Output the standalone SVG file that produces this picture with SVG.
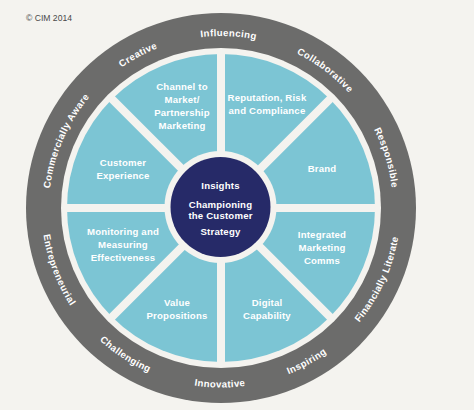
<svg xmlns="http://www.w3.org/2000/svg" width="474" height="410" viewBox="0 0 474 410">
<style>
.bg{fill:#f4f3ef}
.seg{fill:#7cc5d4}
.lbl{font-family:"Liberation Sans",Arial,sans-serif;font-weight:700;font-size:9.6px;fill:#ffffff;text-anchor:middle;letter-spacing:0.2px}
.ring{font-family:"Liberation Sans",Arial,sans-serif;font-weight:700;font-size:9.6px;fill:#ffffff;text-anchor:middle;letter-spacing:0.4px}
.spoke{stroke:#f4f3ef;stroke-width:8}
</style>
<defs>
<path id="arcTop" d="M221,380 A172,172 0 1 1 221,36 A172,172 0 1 1 221,380"/>
<path id="arcBot" d="M221,28.5 A179.5,179.5 0 1 0 221,387.5 A179.5,179.5 0 1 0 221,28.5"/>
</defs>
<rect class="bg" x="0" y="0" width="474" height="410"/>
<text x="26" y="21" font-family="Liberation Sans,Arial,sans-serif" font-size="8.6" fill="#4a4a4a">© CIM 2014</text>

<g id="outer-ring">
<circle cx="221" cy="208" r="195" fill="#6c6c6b"/>
<circle class="bg" cx="221" cy="208" r="160"/>
<text class="ring"><textPath href="#arcTop" startOffset="50.7%">Influencing</textPath></text>
<text class="ring"><textPath href="#arcTop" startOffset="60.3%">Collaborative</textPath></text>
<text class="ring"><textPath href="#arcTop" startOffset="70.3%">Responsible</textPath></text>
<text class="ring"><textPath href="#arcTop" startOffset="42.1%">Creative</textPath></text>
<text class="ring"><textPath href="#arcTop" startOffset="31.5%">Commercially Aware</textPath></text>
<text class="ring"><textPath href="#arcBot" startOffset="30.8%">Entrepreneurial</textPath></text>
<text class="ring"><textPath href="#arcBot" startOffset="40.8%">Challenging</textPath></text>
<text class="ring"><textPath href="#arcBot" startOffset="49.9%">Innovative</textPath></text>
<text class="ring"><textPath href="#arcBot" startOffset="58.1%">Inspiring</textPath></text>
<text class="ring"><textPath href="#arcBot" startOffset="68.2%">Financially Literate</textPath></text>
</g>

<g id="reputation">
<path class="seg" d="M221,208 L221,54 A154,154 0 0 1 329.9,99.1 Z"/>
<text class="lbl" x="267" y="101">Reputation, Risk</text>
<text class="lbl" x="267" y="114">and Compliance</text>
</g>
<g id="brand">
<path class="seg" d="M221,208 L329.9,99.1 A154,154 0 0 1 375,208 Z"/>
<text class="lbl" x="322" y="171.5">Brand</text>
</g>
<g id="integrated">
<path class="seg" d="M221,208 L375,208 A154,154 0 0 1 329.9,316.9 Z"/>
<text class="lbl" x="322" y="237.5">Integrated</text>
<text class="lbl" x="322" y="250.5">Marketing</text>
<text class="lbl" x="322" y="263.5">Comms</text>
</g>
<g id="digital">
<path class="seg" d="M221,208 L329.9,316.9 A154,154 0 0 1 221,362 Z"/>
<text class="lbl" x="267" y="306">Digital</text>
<text class="lbl" x="267" y="319">Capability</text>
</g>
<g id="value">
<path class="seg" d="M221,208 L221,362 A154,154 0 0 1 112.1,316.9 Z"/>
<text class="lbl" x="177" y="306">Value</text>
<text class="lbl" x="177" y="319">Propositions</text>
</g>
<g id="monitoring">
<path class="seg" d="M221,208 L112.1,316.9 A154,154 0 0 1 67,208 Z"/>
<text class="lbl" x="123" y="234.5">Monitoring and</text>
<text class="lbl" x="123" y="247.5">Measuring</text>
<text class="lbl" x="123" y="260.5">Effectiveness</text>
</g>
<g id="customer-experience">
<path class="seg" d="M221,208 L67,208 A154,154 0 0 1 112.1,99.1 Z"/>
<text class="lbl" x="123" y="165.5">Customer</text>
<text class="lbl" x="123" y="178.5">Experience</text>
</g>
<g id="channel">
<path class="seg" d="M221,208 L112.1,99.1 A154,154 0 0 1 221,54 Z"/>
<text class="lbl" x="182" y="89.5">Channel to</text>
<text class="lbl" x="182" y="102.5">Market/</text>
<text class="lbl" x="182" y="115.5">Partnership</text>
<text class="lbl" x="182" y="128.5">Marketing</text>
</g>

<g id="spokes">
<line class="spoke" x1="221" y1="50" x2="221" y2="366"/>
<line class="spoke" x1="63" y1="208" x2="379" y2="208"/>
<line class="spoke" x1="109.3" y1="96.3" x2="332.7" y2="319.7"/>
<line class="spoke" x1="332.7" y1="96.3" x2="109.3" y2="319.7"/>
</g>

<g id="hub">
<circle class="bg" cx="220.5" cy="207" r="56"/>
<circle cx="220.5" cy="207" r="50" fill="#262a68"/>
<text class="lbl" x="220.5" y="189">Insights</text>
<text class="lbl" x="220.5" y="207.5">Championing</text>
<text class="lbl" x="220.5" y="218.5">the Customer</text>
<text class="lbl" x="220.5" y="235">Strategy</text>
</g>
</svg>
